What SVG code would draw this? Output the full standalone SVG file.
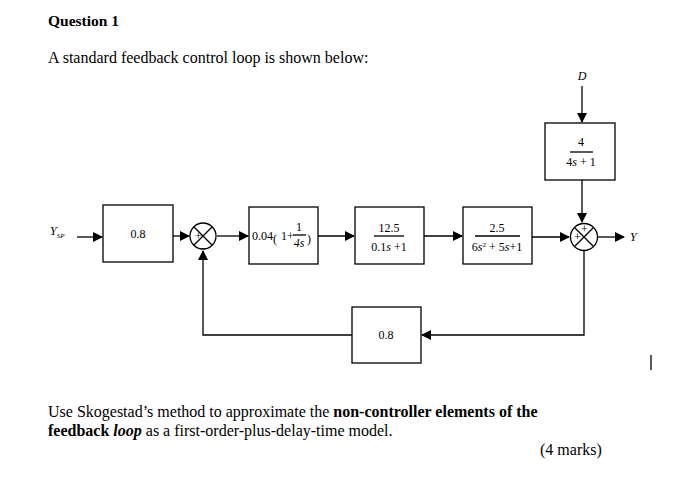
<svg xmlns="http://www.w3.org/2000/svg" width="674" height="482" viewBox="0 0 674 482">
<style>
.t{font-family:"Liberation Serif","Times New Roman",serif;fill:#000}
.b{fill:#fff;stroke:#000;stroke-width:1.3}
.l{stroke:#000;stroke-width:1.3;fill:none}
.m{font-family:"Liberation Serif","Times New Roman",serif;font-size:12px;fill:#000}
</style>
<defs><marker id="a" markerWidth="10" markerHeight="10" refX="9" refY="5" orient="auto" markerUnits="userSpaceOnUse"><path d="M0,0L10,5L0,10Z" fill="#000"/></marker></defs>
<rect width="674" height="482" fill="#fff"/>
<text class="t" x="48" y="26" font-size="15.5" font-weight="bold">Question 1</text>
<text class="t" x="48" y="63" font-size="16">A standard feedback control loop is shown below:</text>
<g id="connectors">
<path class="l" d="M77,237H102" marker-end="url(#a)"/>
<path class="l" d="M173,236H189" marker-end="url(#a)"/>
<path class="l" d="M217,236H248" marker-end="url(#a)"/>
<path class="l" d="M318,236H354" marker-end="url(#a)"/>
<path class="l" d="M424,236H462" marker-end="url(#a)"/>
<path class="l" d="M532,237H569" marker-end="url(#a)"/>
<path class="l" d="M582,86V122" marker-end="url(#a)"/>
<path class="l" d="M582,180V222" marker-end="url(#a)"/>
<path class="l" d="M598,237H624" marker-end="url(#a)"/>
<path class="l" d="M584,251V335H422" marker-end="url(#a)"/>
<path class="l" d="M352,335H203V251" marker-end="url(#a)"/>
</g>
<text class="m" x="50" y="235" font-style="italic">Y<tspan font-size="7" dy="3">SP</tspan></text>
<g id="g1"><rect class="b" x="103" y="205" width="70" height="57"/><text class="m" x="138" y="238" text-anchor="middle">0.8</text></g>
<g id="sum1"><circle class="l" cx="203" cy="236" r="13" fill="#fff"/><path class="l" d="M194,227L212,245M212,227L194,245"/><text class="m" x="195" y="240" font-size="8">+</text><text class="m" x="200" y="251" font-size="9">–</text></g>
<g id="pi"><rect class="b" x="249" y="207" width="69" height="57"/><text class="m" x="252" y="240" font-size="11">0.04</text><text class="m" x="273" y="243" font-size="22" fill="#446">(</text><text class="m" x="281" y="240" font-size="11">1+</text><text class="m" x="299" y="231" font-size="10" text-anchor="middle">1</text><path class="l" d="M293,235H306" stroke-width="0.8"/><text class="m" x="299" y="247" font-size="10" text-anchor="middle" font-style="italic">4s</text><text class="m" x="307" y="243" font-size="22" fill="#446">)</text></g>
<g id="g3"><rect class="b" x="355" y="207" width="69" height="57"/><text class="m" x="389" y="232" text-anchor="middle" font-size="11">12.5</text><path class="l" d="M374,236H404" stroke-width="0.8"/><text class="m" x="389" y="251" text-anchor="middle" font-size="11">0.1<tspan font-style="italic">s</tspan> +1</text></g>
<g id="g4"><rect class="b" x="463" y="207" width="69" height="57"/><text class="m" x="497" y="232" text-anchor="middle" font-size="11">2.5</text><path class="l" d="M475,236H520" stroke-width="0.8"/><text class="m" x="497" y="251" text-anchor="middle" font-size="11">6<tspan font-style="italic">s</tspan><tspan font-size="7" dy="-4">2</tspan><tspan dy="4"> + 5</tspan><tspan font-style="italic">s</tspan>+1</text></g>
<g id="gd"><rect class="b" x="545" y="123" width="70" height="57"/><text class="m" x="581" y="146" text-anchor="middle" font-size="11">4</text><path class="l" d="M570,152H593" stroke-width="0.8"/><text class="m" x="581" y="166" text-anchor="middle" font-size="11">4<tspan font-style="italic">s</tspan> + 1</text></g>
<text class="m" x="582" y="80" text-anchor="middle" font-style="italic">D</text>
<g id="sum2"><circle class="l" cx="584" cy="237" r="13.5" fill="#fff"/><path class="l" d="M575,228L593,246M593,228L575,246"/><text class="m" x="581" y="233" font-size="8">+</text><text class="m" x="574" y="241" font-size="8">+</text></g>
<text class="m" x="630" y="241" font-style="italic">Y</text>
<g id="gf"><rect class="b" x="352" y="307" width="69" height="56"/><text class="m" x="386" y="339" text-anchor="middle">0.8</text></g>
<path class="l" d="M651,355V370" stroke-width="1"/>
<text class="t" x="48" y="417" font-size="16">Use Skogestad’s method to approximate the <tspan font-weight="bold">non-controller elements of the</tspan></text>
<text class="t" x="48" y="436" font-size="16" font-weight="bold">feedback <tspan font-style="italic">loop</tspan><tspan font-weight="normal"> as a first-order-plus-delay-time model.</tspan></text>
<text class="t" x="540" y="455" font-size="16">(4 marks)</text>
</svg>
